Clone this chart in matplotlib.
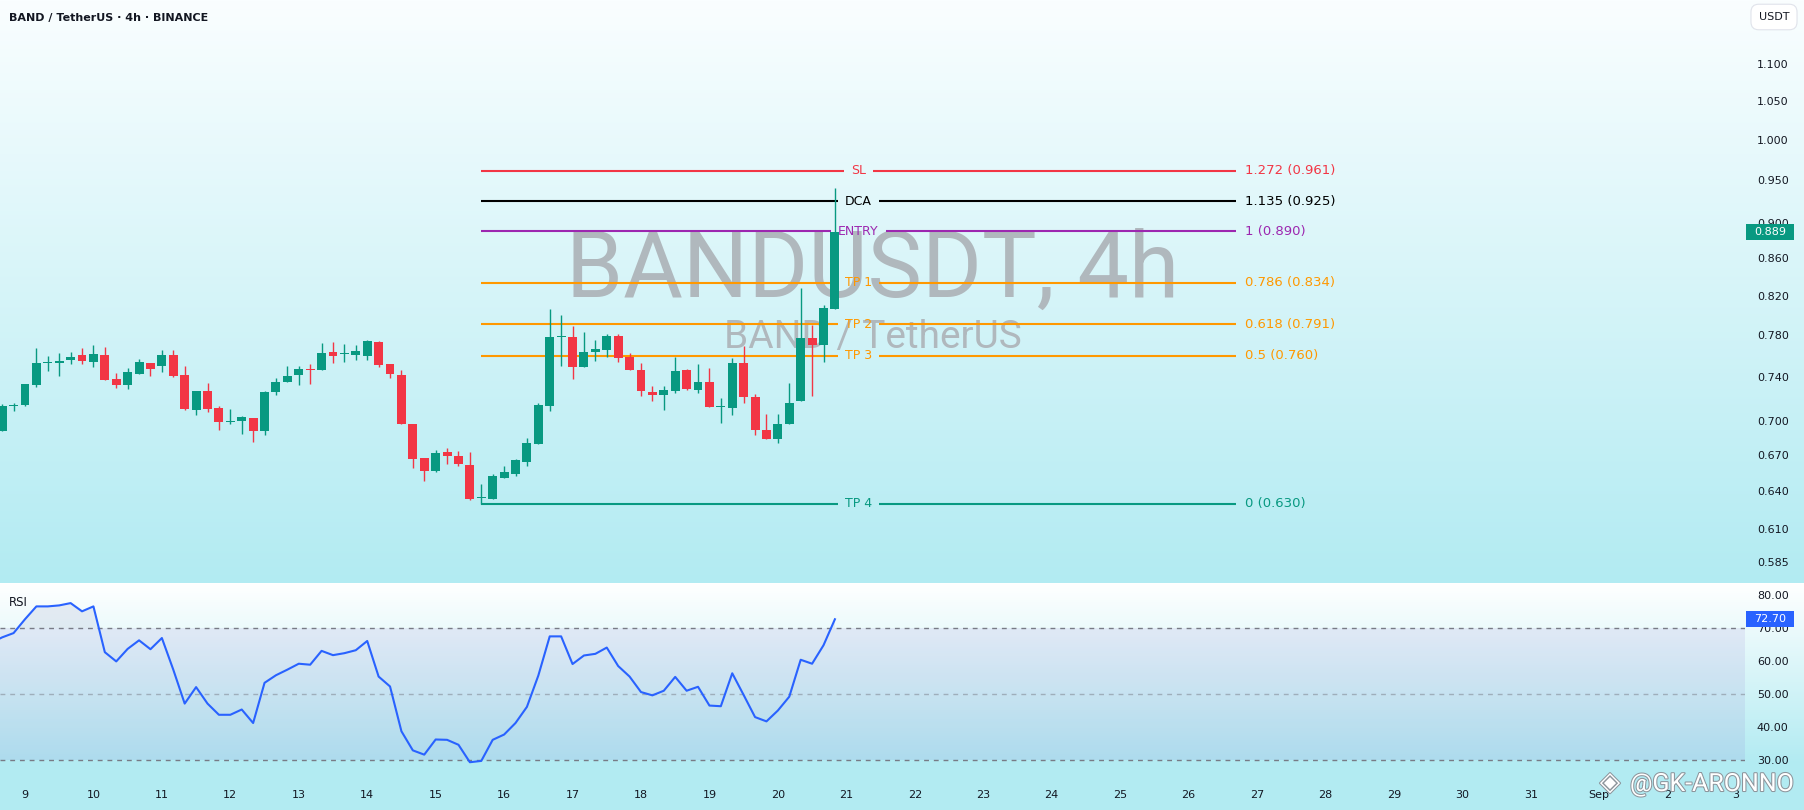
import numpy as np
import matplotlib
matplotlib.use("Agg")
import matplotlib.pyplot as plt
import matplotlib.patheffects as pe
from matplotlib.patches import Rectangle
from matplotlib.ticker import NullLocator

# ---- data (4h candles, x = day of August, Sep 1 = 32) ----
first_candle = 8 + 16 / 24          # Aug 8 16:00
opens = [0.691, 0.713, 0.714, 0.732, 0.7528, 0.7527, 0.7563, 0.7611, 0.7544, 0.7611,
         0.7383, 0.7320, 0.7430, 0.7534, 0.7505, 0.7611, 0.7420, 0.7098, 0.7272, 0.7116,
         0.6990, 0.6999, 0.7026, 0.6905, 0.7255, 0.7349, 0.7414, 0.7477, 0.7461, 0.7641,
         0.7615, 0.7605, 0.7598, 0.7738, 0.7524, 0.7420, 0.6973, 0.6673, 0.6570, 0.6727,
         0.6697, 0.6619, 0.6343, 0.6340, 0.6505, 0.6545, 0.6643, 0.6792, 0.7134, 0.7782,
         0.7785, 0.7490, 0.7635, 0.7661, 0.7791, 0.7592, 0.7468, 0.7262, 0.7230, 0.7265,
         0.7468, 0.7281, 0.7355, 0.7119, 0.7110, 0.7534, 0.7210, 0.6920, 0.6843, 0.6967,
         0.7179, 0.7776, 0.7710, 0.8063]
highs = [0.715, 0.716, 0.733, 0.768, 0.760, 0.763, 0.764, 0.768, 0.771, 0.769,
         0.744, 0.748, 0.7573, 0.7534, 0.766, 0.766, 0.7505, 0.7272, 0.7345, 0.7134,
         0.7104, 0.7044, 0.7026, 0.7272, 0.7393, 0.7505, 0.7505, 0.7524, 0.7728, 0.7738,
         0.7718, 0.7708, 0.7758, 0.7748, 0.7524, 0.7468, 0.6973, 0.6673, 0.6745, 0.6763,
         0.6736, 0.6727, 0.6459, 0.6541, 0.6613, 0.6667, 0.6852, 0.7163, 0.8063, 0.8008,
         0.7895, 0.7837, 0.7758, 0.7811, 0.7811, 0.7628, 0.7534, 0.7318, 0.7318, 0.7592,
         0.7477, 0.7524, 0.7487, 0.7200, 0.7583, 0.7698, 0.7243, 0.7062, 0.7062, 0.7345,
         0.8286, 0.7907, 0.8104, 0.940]
lows = [0.691, 0.709, 0.713, 0.731, 0.746, 0.7405, 0.752, 0.752, 0.749, 0.737,
        0.730, 0.7283, 0.7423, 0.7405, 0.7449, 0.740, 0.7095, 0.7055, 0.708, 0.6914,
        0.6967, 0.6879, 0.6809, 0.6870, 0.7236, 0.7349, 0.7321, 0.733, 0.7461, 0.7531,
        0.7540, 0.7560, 0.7560, 0.7490, 0.7386, 0.6967, 0.6591, 0.6485, 0.6555, 0.6622,
        0.6613, 0.6332, 0.630, 0.6340, 0.6505, 0.6528, 0.6613, 0.6792, 0.7090, 0.7504,
        0.7377, 0.7490, 0.7550, 0.7592, 0.7540, 0.7461, 0.7220, 0.7180, 0.7100, 0.7250,
        0.7281, 0.7250, 0.7125, 0.6976, 0.7055, 0.7162, 0.6870, 0.6843, 0.6807, 0.6967,
        0.7179, 0.7220, 0.7540, 0.8063]
closes = [0.713, 0.714, 0.733, 0.753, 0.7534, 0.7553, 0.7592, 0.7547, 0.7621, 0.7373,
          0.7320, 0.7449, 0.7544, 0.7477, 0.7611, 0.7405, 0.7104, 0.7272, 0.7104, 0.6990,
          0.6996, 0.7035, 0.6905, 0.7262, 0.7355, 0.7411, 0.7477, 0.7461, 0.7631, 0.7595,
          0.7621, 0.7651, 0.7748, 0.7508, 0.7423, 0.6967, 0.6670, 0.6570, 0.6718, 0.6694,
          0.6622, 0.6340, 0.6348, 0.6522, 0.6562, 0.6658, 0.6807, 0.7143, 0.7785, 0.7788,
          0.7490, 0.7638, 0.7668, 0.7791, 0.7576, 0.7461, 0.7265, 0.7230, 0.7281, 0.7459,
          0.7290, 0.7355, 0.7125, 0.7125, 0.7534, 0.7214, 0.6914, 0.6843, 0.6973, 0.7159,
          0.7776, 0.7710, 0.8073, 0.889]

# RSI(14), first value is the candle before the first visible one
rsi_start = 8 + 12 / 24
rsi = [65.5,
       67.2, 68.5, 72.7, 76.6, 76.6, 76.9, 77.6, 75.1, 76.6, 62.7,
       59.9, 63.7, 66.3, 63.6, 67.0, 57.4, 47.1, 52.1, 47.1, 43.7,
       43.7, 45.3, 41.2, 53.4, 55.7, 57.4, 59.2, 58.9, 63.1, 61.8,
       62.4, 63.3, 66.1, 55.3, 52.3, 38.7, 32.9, 31.6, 36.2, 36.1,
       34.6, 29.3, 29.7, 36.1, 37.7, 41.2, 46.1, 55.6, 67.5, 67.5,
       59.1, 61.7, 62.2, 64.1, 58.5, 55.3, 50.6, 49.6, 51.0, 55.2,
       51.0, 52.2, 46.5, 46.3, 56.3, 49.7, 43.0, 41.7, 45.0, 49.2,
       60.4, 59.2, 64.8, 72.7]

# fib / trade levels
level_names = ['SL', 'DCA', 'ENTRY', 'TP 1', 'TP 2', 'TP 3', 'TP 4']
level_ratios = ['1.272', '1.135', '1', '0.786', '0.618', '0.5', '0']
level_prices = [0.961, 0.925, 0.890, 0.834, 0.791, 0.760, 0.630]
level_colors = ['#f23645', '#000000', '#9c27b0', '#ff9800', '#ff9800', '#ff9800', '#089981']
fib_start = 15 + 16 / 24
fib_end = 26 + 16.5 / 24

price_ticks = [1.100, 1.050, 1.000, 0.950, 0.900, 0.860, 0.820, 0.780, 0.740,
               0.700, 0.670, 0.640, 0.610, 0.585]
rsi_ticks = [80, 70, 60, 50, 40, 30]
day_ticks = list(range(9, 35))
day_labels = [str(d) for d in range(9, 32)] + ['Sep', '2', '3']

GREEN = '#089981'
RED = '#f23645'
TXT = '#131722'

# ---- figure ----
W, H = 1804, 810
SPLIT, RSI_BOTTOM, PLOT_RIGHT = 583, 782, 1745
fig = plt.figure(figsize=(W / 100, H / 100), dpi=100)

# background gradient (white -> light cyan per pane)
top_c = np.array([250, 254, 255]) / 255
white = np.array([255, 255, 255]) / 255
cyan = np.array([178, 235, 242]) / 255
bg = np.zeros((H, 1, 3))
for i in range(H):
    if i < SPLIT:
        f = i / SPLIT
        bg[i, 0] = top_c * (1 - f) + cyan * f
    else:
        f = min((i - SPLIT) / 180, 1)
        bg[i, 0] = white * (1 - f) + cyan * f
ax_bg = fig.add_axes([0, 0, 1, 1])
ax_bg.imshow(bg, aspect='auto', extent=[0, 1, 0, 1])
ax_bg.axis('off')

ax = fig.add_axes([0, (H - SPLIT) / H, PLOT_RIGHT / W, SPLIT / H])
ax_r = fig.add_axes([0, (H - RSI_BOTTOM) / H, PLOT_RIGHT / W, (RSI_BOTTOM - SPLIT) / H], sharex=ax)
for a in (ax, ax_r):
    a.set_facecolor('none')
    for s in a.spines.values():
        s.set_visible(False)

ax.set_yscale('log')
ax.set_ylim(0.5697, 1.1938)
ax.set_xlim(8.635, 34.13)
ax.yaxis.tick_right()
ax.set_yticks(price_ticks)
ax.set_yticklabels([f'{v:.3f}' for v in price_ticks])
ax.yaxis.set_minor_locator(NullLocator())
ax.tick_params(axis='y', length=0, pad=8.5, labelsize=8, labelcolor=TXT)
ax.tick_params(axis='x', bottom=False, labelbottom=False)

# watermark
ax.text(0.5, 0.4911, 'BANDUSDT, 4h', transform=ax.transAxes, ha='center', va='baseline',
        fontsize=66, family='Roboto', color='#b0b8bd', zorder=0)
ax.text(0.5, 0.4026, 'BAND / TetherUS', transform=ax.transAxes, ha='center', va='baseline',
        fontsize=28, family='Roboto', color='#b0b8bd', zorder=0)

# candles
o = np.array(opens); h = np.array(highs); l = np.array(lows); c = np.array(closes)
t = first_candle + np.arange(len(c)) / 6
cols = np.where(c >= o, GREEN, RED)
ax.vlines(t, l, h, colors=cols, lw=1, zorder=4)
ax.bar(t, np.maximum(np.abs(c - o), 0.0009), bottom=np.minimum(o, c), width=0.13,
       color=cols, zorder=5)

# trade levels with a gap around the centre label
renderer = fig.canvas.get_renderer()
mid = (fib_start + fib_end) / 2
inv = ax.transData.inverted()
for name, ratio, price, col in zip(level_names, level_ratios, level_prices, level_colors):
    lab = ax.text(mid, price, name, ha='center', va='center', color=col, fontsize=9, zorder=3)
    bb = lab.get_window_extent(renderer)
    gx0 = inv.transform((bb.x0 - 7, 0))[0]
    gx1 = inv.transform((bb.x1 + 7, 0))[0]
    ax.hlines(price, fib_start, gx0, color=col, lw=1.5, zorder=3)
    ax.hlines(price, gx1, fib_end, color=col, lw=1.5, zorder=3)
    ax.annotate(f'{ratio} ({price:.3f})', (fib_end, price), xytext=(6.5, 0),
                textcoords='offset points', ha='left', va='center', color=col, fontsize=9.5)

# ---- RSI pane ----
t_rsi = rsi_start + np.arange(len(rsi)) / 6
rsi_arr = np.array(rsi)
ax_r.set_ylim(23.3, 83.7)
ax_r.axhspan(30, 70, color='#7e57c2', alpha=0.1, lw=0)
ax_r.fill_between(t_rsi, rsi_arr, 70, where=rsi_arr > 70, interpolate=True,
                  color='#c5cde0', alpha=0.35, lw=0)
ax_r.axhline(70, color='#787b86', lw=1, ls=(0, (3.5, 3.5)))
ax_r.axhline(50, color='#787b86', lw=1, ls=(0, (3.5, 3.5)), alpha=0.5)
ax_r.axhline(30, color='#787b86', lw=1, ls=(0, (3.5, 3.5)))
ax_r.plot(t_rsi, rsi_arr, color='#2962ff', lw=1.5, zorder=3)
ax_r.text(9 / PLOT_RIGHT, 0.8995, 'RSI', transform=ax_r.transAxes, ha='left', va='center',
          fontsize=8.5, color=TXT)
ax_r.yaxis.tick_right()
ax_r.set_yticks(rsi_ticks)
ax_r.set_yticklabels([f'{v:.2f}' for v in rsi_ticks])
ax_r.tick_params(axis='y', length=0, pad=8.5, labelsize=8, labelcolor=TXT)
ax_r.set_xticks(day_ticks)
ax_r.set_xticklabels(day_labels)
ax_r.tick_params(axis='x', length=0, pad=6, labelsize=8, labelcolor=TXT)


# axis value tags
def axis_tag(a, value, text, color):
    y = fig.transFigure.inverted().transform(a.transData.transform((t[0], value)))[1]
    fig.add_artist(Rectangle((1746 / W, y - 8 / H), 48 / W, 16 / H, transform=fig.transFigure,
                             facecolor=color, edgecolor='none', zorder=5))
    fig.text(1770 / W, y, text, color='white', fontsize=8, ha='center', va='center', zorder=6)


axis_tag(ax, closes[-1], f'{closes[-1]:.3f}', GREEN)
axis_tag(ax_r, rsi[-1], f'{rsi[-1]:.2f}', '#2962ff')

# header and corner texts
fig.text(9 / W, 1 - 18 / H, 'BAND / TetherUS · 4h · BINANCE', fontsize=8, fontweight='bold',
         color=TXT, va='center', ha='left')
fig.text(1774 / W, 1 - 17 / H, 'USDT', fontsize=8, color=TXT, ha='center', va='center',
         bbox=dict(boxstyle='round,pad=0.7', fc='white', ec='#e0e3eb', lw=0.8))
shadow = [pe.withStroke(linewidth=1.5, foreground='#8d959c')]
fig.text(1610 / W, 1 - 783 / H, '◈', fontsize=19, color='white', ha='center', va='center',
         path_effects=shadow)
fig.text(1630 / W, 1 - 791 / H, '@GK-ARONNO', fontsize=18, family='Roboto', color='white',
         ha='left', va='baseline', path_effects=shadow)

fig.savefig('out.png', dpi=100)
